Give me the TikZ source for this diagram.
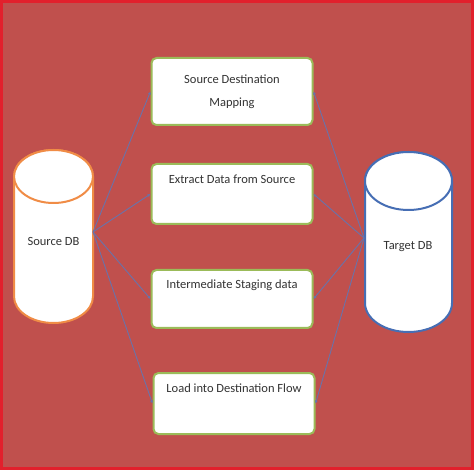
\documentclass[tikz,border=0pt]{standalone}
\usepackage{fontspec}
\setmainfont{Carlito}
\usetikzlibrary{arrows.meta}
\definecolor{bgred}{RGB}{192,80,77}
\definecolor{rimred}{RGB}{226,32,44}
\definecolor{dborange}{RGB}{240,140,70}
\definecolor{dbblue}{RGB}{70,110,180}
\definecolor{stepgreen}{RGB}{155,187,89}
\definecolor{linkblue}{RGB}{105,115,170}
\begin{document}
\begin{tikzpicture}[x=1pt,y=-1pt,font=\fontsize{12.5}{23}\selectfont,
  db/.style={fill=white,line width=2pt},
  dbS/.style={db,draw=dborange},
  dbT/.style={db,draw=dbblue},
  dbtext/.style={text=black!80},
  stepbox/.style={shape=rectangle,rounded corners=5pt,draw=stepgreen,fill=white,line width=2pt,minimum width=161pt,align=center,text=black!80},
  link/.style={draw=linkblue,line width=0.9pt,-{Latex[length=3pt,width=3pt]}}]
\def\bx{232};

\useasboundingbox (0,0) rectangle (474,470);
\draw[fill=bgred,draw=rimred,line width=3pt] (1.5,1.5) rectangle (472.5,468.5);

% source db
\draw[dbS] (14,176.5) -- (14,296.5) arc (180:0:39.5 and 26.5) -- (93,176.5) arc (0:-180:39.5 and 26.5) -- cycle;
\draw[dbS] (53.5,176.5) ellipse (39.5 and 26.5);
% target db
\draw[dbT] (365,181) -- (365,303) arc (180:0:43.5 and 29) -- (452,181) arc (0:-180:43.5 and 29) -- cycle;
\draw[dbT] (408.5,181) ellipse (43.5 and 29);

\node[dbtext] (srcl) at (53.5,241) {Source DB};
\node[dbtext] (tgtl) at (408,247) {Target DB};

\node[stepbox,minimum height=67pt] (map) at (\bx,91.5) {Source Destination\\Mapping};
\node[stepbox,minimum height=60pt] (ext) at (\bx,194) {Extract Data from Source\\\strut};
\node[stepbox,minimum height=58pt] (stg) at (\bx,299) {Intermediate Staging data\\\strut};
\node[stepbox,minimum height=61pt] (lod) at (\bx+2,403.5) {Load into Destination Flow\\\strut};

\coordinate (srcp) at (93,232);
\coordinate (tgtp) at (364,238);
\foreach \s in {map,ext,stg,lod}{
  \draw[link] (srcp) -- (\s.west);
  \draw[link] (tgtp) -- (\s.east);
}
\end{tikzpicture}
\end{document}
